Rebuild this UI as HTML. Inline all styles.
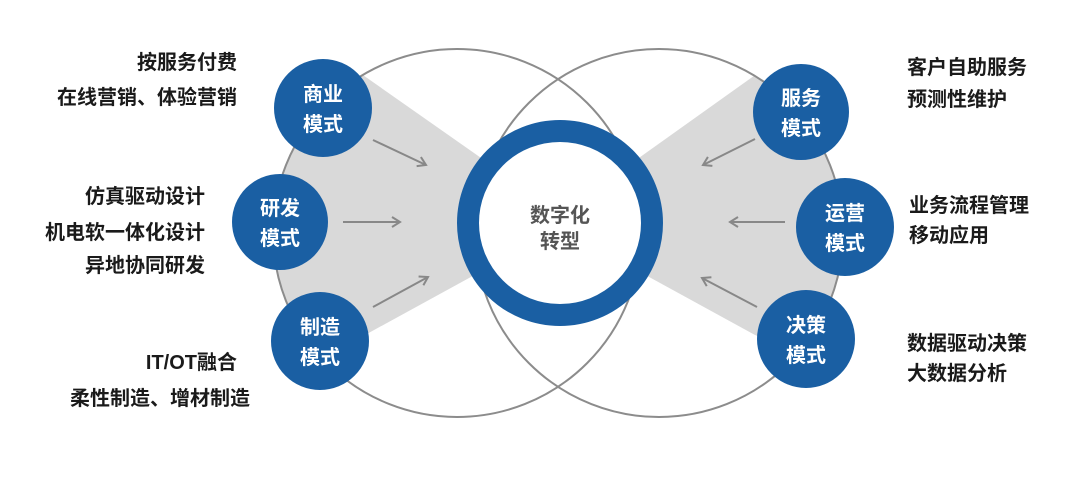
<!DOCTYPE html>
<html><head><meta charset="utf-8"><style>
html,body{margin:0;padding:0;background:#fff;width:1080px;height:485px;overflow:hidden}
svg{display:block}
text{font-family:"Liberation Sans","Noto Sans CJK SC",sans-serif;font-weight:bold}
</style></head><body>
<svg width="1080" height="485" viewBox="0 0 1080 485" xmlns="http://www.w3.org/2000/svg">
<defs>
<clipPath id="cl"><circle cx="457" cy="233" r="184"/></clipPath>
<clipPath id="cr"><circle cx="659" cy="233" r="184"/></clipPath>
<marker id="ah" markerWidth="12" markerHeight="12" refX="9" refY="6" orient="auto" markerUnits="userSpaceOnUse"><path d="M1,1 L9,6 L1,11" fill="none" stroke="#888" stroke-width="2"/></marker>
</defs>
<polygon clip-path="url(#cl)" points="360,73 484,160 480,272 365,335 250,380 250,60" fill="#d9d9d9"/>
<polygon clip-path="url(#cr)" points="758,73 636,160 640,272 755,335 870,380 870,60" fill="#d9d9d9"/>
<circle cx="457" cy="233" r="184" fill="none" stroke="#8c8c8c" stroke-width="2"/>
<circle cx="659" cy="233" r="184" fill="none" stroke="#8c8c8c" stroke-width="2"/>
<circle cx="560" cy="223" r="92" fill="#fff" stroke="#1a5fa3" stroke-width="22"/>
<text x="560" y="222" font-size="20" fill="#555" text-anchor="middle">数字化</text>
<text x="560" y="248" font-size="20" fill="#555" text-anchor="middle">转型</text>
<g stroke="#888" stroke-width="2" marker-end="url(#ah)">
<line x1="373" y1="140" x2="426" y2="165"/>
<line x1="343" y1="222" x2="400" y2="222"/>
<line x1="373" y1="307" x2="428" y2="277"/>
<line x1="755" y1="139" x2="703" y2="165"/>
<line x1="785" y1="222" x2="730" y2="222"/>
<line x1="757" y1="307" x2="702" y2="278"/>
</g>
<g fill="#1a5fa3">
<circle cx="323" cy="108" r="49"/><circle cx="280" cy="222" r="48"/><circle cx="320" cy="341" r="49"/>
<circle cx="801" cy="112" r="48"/><circle cx="845" cy="227" r="49"/><circle cx="806" cy="339" r="49"/>
</g>
<g fill="#fff" font-size="20" text-anchor="middle">
<text x="323" y="101">商业</text><text x="323" y="131">模式</text>
<text x="280" y="215">研发</text><text x="280" y="245">模式</text>
<text x="320" y="334">制造</text><text x="320" y="364">模式</text>
<text x="801" y="105">服务</text><text x="801" y="135">模式</text>
<text x="845" y="220">运营</text><text x="845" y="250">模式</text>
<text x="806" y="332">决策</text><text x="806" y="362">模式</text>
</g>
<g fill="#1a1a1a" font-size="20" text-anchor="end">
<text x="237" y="69">按服务付费</text>
<text x="237" y="104">在线营销、体验营销</text>
<text x="205" y="203">仿真驱动设计</text>
<text x="205" y="239">机电软一体化设计</text>
<text x="205" y="272">异地协同研发</text>
<text x="237" y="369">IT/OT融合</text>
<text x="250" y="405">柔性制造、增材制造</text>
</g>
<g fill="#1a1a1a" font-size="20">
<text x="907" y="74">客户自助服务</text>
<text x="907" y="106">预测性维护</text>
<text x="909" y="212">业务流程管理</text>
<text x="909" y="242">移动应用</text>
<text x="907" y="350">数据驱动决策</text>
<text x="907" y="380">大数据分析</text>
</g>
</svg>
</body></html>
